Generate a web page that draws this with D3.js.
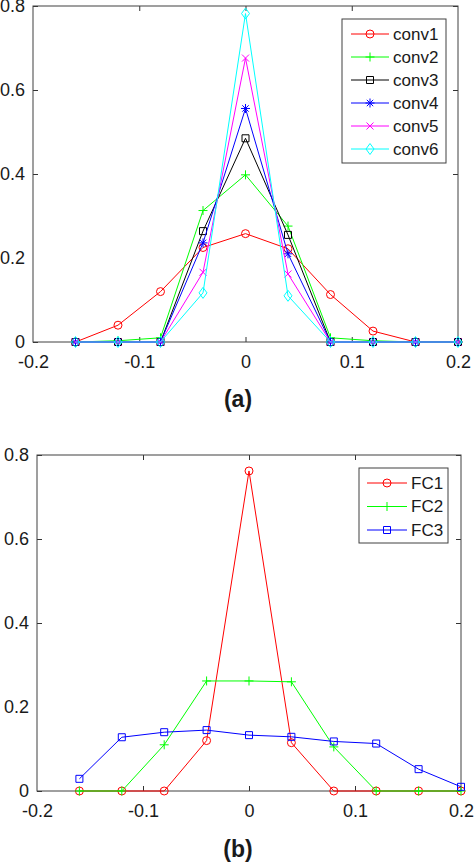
<!DOCTYPE html>
<html>
<head>
<meta charset="utf-8">
<script src="https://cdn.jsdelivr.net/npm/d3@7"></script>
<style>
    body { margin: 0; background: #fff; }
    svg { display: block; font-family: "Liberation Sans", Arial, sans-serif; }
    .tick text { font-size: 18px; fill: #1a1a1a; }
    .tick line { stroke: #333; }
</style>
</head>
<body>
<svg id="chart" width="474" height="863"></svg>
<script>
// shared x positions
var xs = [-0.16, -0.12, -0.08, -0.04, 0, 0.04, 0.08, 0.12, 0.16, 0.2];
var xTicks = [-0.2, -0.1, 0, 0.1, 0.2];
var yTicks = [0, 0.2, 0.4, 0.6, 0.8];

// (a) conv layers
var conv1 = [0, 0.04, 0.12, 0.225, 0.258, 0.222, 0.113, 0.026, 0, 0];
var conv2 = [0, 0.003, 0.01, 0.313, 0.398, 0.276, 0.01, 0.003, 0, 0];
var conv3 = [0, 0, 0, 0.264, 0.485, 0.255, 0, 0, 0, 0];
var conv4 = [0, 0, 0, 0.236, 0.556, 0.21, 0, 0, 0, 0];
var conv5 = [0, 0, 0, 0.166, 0.676, 0.162, 0, 0, 0, 0];
var conv6 = [0, 0, 0, 0.117, 0.782, 0.11, 0, 0, 0, 0];

// (b) fully connected layers
var fc1 = [0, 0, 0, 0.12, 0.762, 0.115, 0, 0, 0, 0];
var fc2 = [0, 0, 0.11, 0.262, 0.262, 0.26, 0.105, 0, 0, 0];
var fc3 = [0.029, 0.128, 0.14, 0.145, 0.133, 0.129, 0.118, 0.113, 0.052, 0.01];

var seriesA = [
    {name: "conv1", values: conv1, color: "#ff0000", marker: "o"},
    {name: "conv2", values: conv2, color: "#00ff00", marker: "+"},
    {name: "conv3", values: conv3, color: "#000000", marker: "s"},
    {name: "conv4", values: conv4, color: "#0000ff", marker: "*"},
    {name: "conv5", values: conv5, color: "#ff00ff", marker: "x"},
    {name: "conv6", values: conv6, color: "#00ffff", marker: "d"}
];
var seriesB = [
    {name: "FC1", values: fc1, color: "#ff0000", marker: "o"},
    {name: "FC2", values: fc2, color: "#00ff00", marker: "+"},
    {name: "FC3", values: fc3, color: "#0000ff", marker: "s"}
];

var svg = d3.select("#chart");
// plain hyphen minus like matlab
var fmt = function (d) { return String(d); };

function markerPath(m) {
    switch (m) {
        case "o": return d3.symbol(d3.symbolCircle, 50)();
        case "+": return "M-4.5,0H4.5M0,-4.5V4.5";
        case "s": return "M-3.5,-3.5H3.5V3.5H-3.5Z";
        case "*": return "M-4.5,0H4.5M0,-4.5V4.5M-3.2,-3.2L3.2,3.2M-3.2,3.2L3.2,-3.2";
        case "x": return "M-3.5,-3.5L3.5,3.5M-3.5,3.5L3.5,-3.5";
        case "d": return "M0,-5.5L4,0L0,5.5L-4,0Z";
    }
}

function drawPanel(box, series, legend, label, labelY) {
    var g = svg.append("g");
    var x = d3.scaleLinear().domain([-0.2, 0.2]).range([box.left, box.right]);
    var y = d3.scaleLinear().domain([0, 0.8]).range([box.bottom, box.top]);

    // axes, MATLAB style with inward ticks
    g.append("g").attr("transform", "translate(0," + box.bottom + ")")
        .call(d3.axisBottom(x).tickValues(xTicks).tickFormat(fmt).tickSizeInner(-5).tickSizeOuter(0).tickPadding(13));
    g.append("g").attr("transform", "translate(0," + box.top + ")")
        .call(d3.axisTop(x).tickValues(xTicks).tickFormat("").tickSizeInner(-5).tickSizeOuter(0));
    g.append("g").attr("transform", "translate(" + box.left + ",0)")
        .call(d3.axisLeft(y).tickValues(yTicks).tickFormat(fmt).tickSizeInner(-5).tickSizeOuter(0).tickPadding(8));
    g.append("g").attr("transform", "translate(" + box.right + ",0)")
        .call(d3.axisRight(y).tickValues(yTicks).tickFormat("").tickSizeInner(-5).tickSizeOuter(0));
    g.selectAll(".domain").remove();
    g.selectAll(".tick text").attr("font-family", null).attr("font-size", null);
    g.selectAll(".tick").filter(function (d) { return d === -0.2 || d === 0.2; })
        .select("line").remove();

    g.append("rect")
        .attr("x", box.left).attr("y", box.top)
        .attr("width", box.right - box.left).attr("height", box.bottom - box.top)
        .attr("fill", "none").attr("stroke", "#404040").attr("stroke-width", 1);

    var line = d3.line()
        .x(function (d, i) { return x(xs[i]); })
        .y(function (d) { return y(d); });

    series.forEach(function (s) {
        g.append("path")
            .datum(s.values)
            .attr("d", line)
            .attr("fill", "none")
            .attr("stroke", s.color)
            .attr("stroke-width", 1);
        g.selectAll(null)
            .data(s.values)
            .enter().append("path")
            .attr("d", markerPath(s.marker))
            .attr("transform", function (d, i) { return "translate(" + x(xs[i]) + "," + y(d) + ")"; })
            .attr("fill", "none")
            .attr("stroke", s.color)
            .attr("stroke-width", 1);
    });

    // legend
    var lg = g.append("g");
    lg.append("rect")
        .attr("x", legend.x).attr("y", legend.y)
        .attr("width", legend.w).attr("height", legend.h)
        .attr("fill", "#fff").attr("stroke", "#404040").attr("stroke-width", 1);
    series.forEach(function (s, i) {
        var cy = legend.first + i * legend.step;
        lg.append("line")
            .attr("x1", legend.lx1).attr("x2", legend.lx2)
            .attr("y1", cy).attr("y2", cy)
            .attr("stroke", s.color).attr("stroke-width", 1);
        lg.append("path")
            .attr("d", markerPath(s.marker))
            .attr("transform", "translate(" + ((legend.lx1 + legend.lx2) / 2) + "," + cy + ")")
            .attr("fill", "none").attr("stroke", s.color).attr("stroke-width", 1);
        lg.append("text")
            .attr("x", legend.tx).attr("y", cy)
            .attr("dy", "0.35em")
            .attr("font-size", 17)
            .attr("fill", "#1a1a1a")
            .text(s.name);
    });

    svg.append("text")
        .attr("x", 238).attr("y", labelY)
        .attr("text-anchor", "middle")
        .attr("font-size", 23)
        .attr("font-weight", "bold")
        .attr("fill", "#1a1a1a")
        .text(label);
}

drawPanel({left: 33, right: 458, top: 6, bottom: 342}, seriesA,
    {x: 342, y: 19, w: 104, h: 144, first: 34, step: 23, lx1: 351, lx2: 389, tx: 393},
    "(a)", 407);
drawPanel({left: 37, right: 461, top: 455, bottom: 791}, seriesB,
    {x: 359, y: 468, w: 89, h: 75, first: 483, step: 23.5, lx1: 367, lx2: 407, tx: 411},
    "(b)", 857);
</script>
</body>
</html>
